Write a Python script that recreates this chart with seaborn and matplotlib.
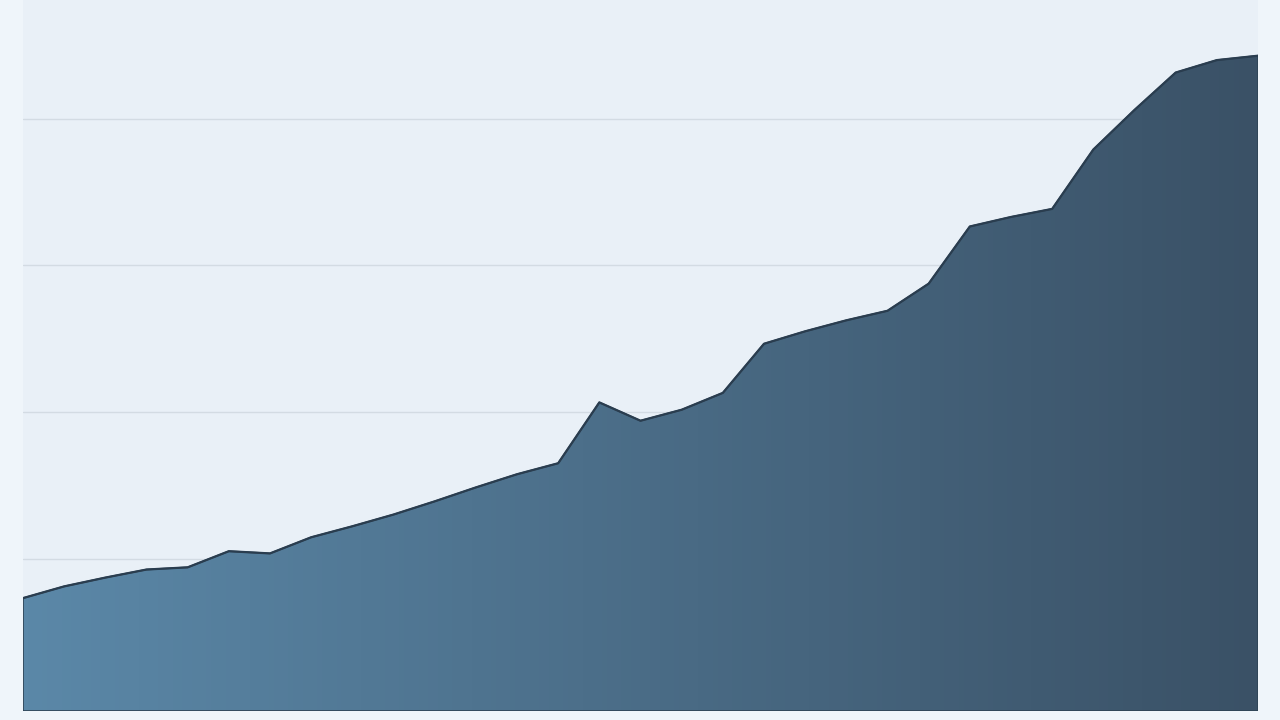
import numpy as np
import pandas as pd
import matplotlib
matplotlib.use("Agg")
import matplotlib.pyplot as plt
from matplotlib.colors import LinearSegmentedColormap
import seaborn as sns

# daily series, 31 points
days = list(range(31))
values = [730, 810, 870, 925, 940, 1050, 1035, 1145, 1220, 1300,
          1390, 1485, 1575, 1650, 2065, 1940, 2015, 2130, 2465, 2550,
          2625, 2690, 2875, 3265, 3330, 3385, 3790, 4060, 4315, 4400, 4430]
grid_ticks = [1000, 2000, 3000, 4000]

df = pd.DataFrame({"day": days, "value": values})

sns.set_theme(style="white")
fig = plt.figure(figsize=(12.8, 7.2), dpi=100, facecolor="#eff5fa")
ax = fig.add_axes([23 / 1280, 9 / 720, 1235 / 1280, 711 / 720])
ax.set_facecolor("#e9f0f7")

# area with a left-to-right gradient
poly = ax.fill_between(df["day"], df["value"], -40, facecolor="none",
                       edgecolor="#2f4456", linewidth=1.2, zorder=2)
cmap = LinearSegmentedColormap.from_list("slate", ["#5b88a8", "#3a5166"])
grad = np.linspace(0, 1, 256).reshape(1, -1)
img = ax.imshow(grad, cmap=cmap, aspect="auto", zorder=1,
                extent=[df["day"].min(), df["day"].max(), -40, 4810])
img.set_clip_path(poly.get_paths()[0], transform=ax.transData)

sns.lineplot(data=df, x="day", y="value", ax=ax, color="#2a3d4f",
             linewidth=1.6, zorder=3)

ax.set_xlim(0, 30)
ax.set_ylim(-40, 4810)
ax.set_yticks(grid_ticks)
ax.yaxis.grid(True, color="#d3dbe3", linewidth=1)
ax.set_axisbelow(True)
ax.tick_params(left=False, bottom=False, labelleft=False, labelbottom=False)
ax.set_xlabel("")
ax.set_ylabel("")
for s in ax.spines.values():
    s.set_visible(False)

fig.savefig("out.png", dpi=100, facecolor=fig.get_facecolor())
